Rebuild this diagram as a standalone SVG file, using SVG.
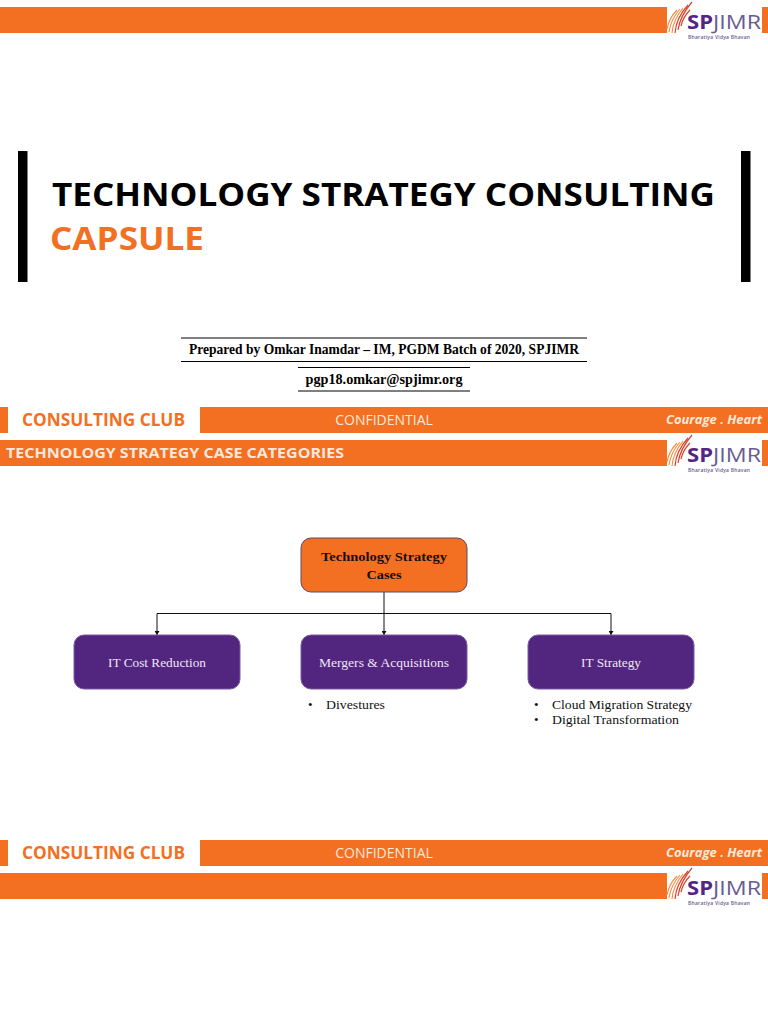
<svg xmlns="http://www.w3.org/2000/svg" width="768" height="1024" viewBox="0 0 768 1024">
<style>
.o{fill:#f36f21}
.k{fill:#000}
.s{font-family:"Open Sans","Noto Sans",sans-serif}
.c{font-family:"Liberation Serif","DejaVu Serif",serif}
.club{font-size:17.5px;font-weight:700;fill:#f36f21}
.conf{font-size:14px;fill:#fde9dc;text-anchor:middle}
.ch{font-size:12.5px;font-weight:700;font-style:italic;fill:#fde9dc}
.box{fill:#52257f;stroke:#7a5aa6;stroke-width:1}
.boxo{fill:#f36f21;stroke:#5a4a6a;stroke-width:1}
.wt{font-size:13px;fill:#efe6f5;text-anchor:middle}
.bt{font-size:13px;fill:#111}
.rule{stroke:#000;stroke-width:1}
.conn{fill:none;stroke:#111;stroke-width:1}
</style>
<defs>
<marker id="arrow" markerUnits="userSpaceOnUse" markerWidth="5" markerHeight="5" refX="4" refY="2.500" orient="auto"><path d="M0 0L4 2.500L0 5Z" fill="#111"/></marker>
<g id="logo">
<g fill="none" stroke="#f58a3c" stroke-width="1.1"><path d="M667 29Q669 18 677 10"/><path d="M669 32Q671 19 680 9"/><path d="M672 33Q673 20 683 8"/></g>
<g fill="none" stroke="#d9402b" stroke-width="1.2"><path d="M675 33Q676 18 688 5"/><path d="M678 30Q680 16 692 2"/><path d="M681 26Q683 17 690 10"/></g>
<text x="687" y="29" font-family="'Open Sans',sans-serif" font-size="20" font-weight="700" fill="#542583" textLength="26" lengthAdjust="spacingAndGlyphs">SP</text>
<text x="713" y="29" font-family="'Open Sans',sans-serif" font-size="20" fill="#6a5a92" textLength="48" lengthAdjust="spacingAndGlyphs">JIMR</text>
<text x="688" y="38.500" font-family="'Open Sans',sans-serif" font-size="5" font-weight="600" fill="#6a5a92" textLength="62">Bharatiya Vidya Bhavan</text>
</g>
<g id="footer">
<rect class="o" x="0" y="0" width="8" height="26"/>
<rect class="o" x="200" y="0" width="568" height="26"/>
<text class="s club" x="22" y="19" textLength="163" lengthAdjust="spacingAndGlyphs">CONSULTING CLUB</text>
<text class="s conf" x="384" y="18">CONFIDENTIAL</text>
<text class="s ch" x="666" y="17" textLength="96" lengthAdjust="spacingAndGlyphs">Courage . Heart</text>
</g>
</defs>
<rect width="768" height="1024" fill="#fff"/>

<g id="top-header">
<rect class="o" x="0" y="7" width="667" height="26"/>
<rect class="o" x="762" y="7" width="6" height="26"/>
<use href="#logo"/>
</g>

<g id="title">
<rect class="k" x="18" y="151" width="9.500" height="131"/>
<rect class="k" x="741" y="151" width="9.500" height="131"/>
<text class="s" x="52" y="206" font-size="33" font-weight="700" fill="#000" textLength="663" lengthAdjust="spacingAndGlyphs">TECHNOLOGY STRATEGY CONSULTING</text>
<text class="s" x="50" y="250" font-size="33" font-weight="700" fill="#f36f21" textLength="154" lengthAdjust="spacingAndGlyphs">CAPSULE</text>
</g>

<g id="author">
<line class="rule" x1="181" y1="338" x2="587" y2="338"/>
<line class="rule" x1="181" y1="361.500" x2="587" y2="361.500"/>
<line class="rule" x1="298" y1="367.500" x2="470" y2="367.500"/>
<line class="rule" x1="298" y1="391" x2="470" y2="391"/>
<text class="c" x="384" y="354" font-size="14" font-weight="700" text-anchor="middle" fill="#000" textLength="390" lengthAdjust="spacingAndGlyphs">Prepared by Omkar Inamdar – IM, PGDM Batch of 2020, SPJIMR</text>
<text class="c" x="384" y="384" font-size="14" font-weight="700" text-anchor="middle" fill="#000" textLength="157" lengthAdjust="spacingAndGlyphs">pgp18.omkar@spjimr.org</text>
</g>

<g id="footer-1" transform="translate(0 407)"><use href="#footer"/></g>

<g id="slide-header">
<rect class="o" x="0" y="440" width="667" height="26"/>
<rect class="o" x="762" y="440" width="6" height="26"/>
<text class="s" x="6" y="458" font-size="14.500" font-weight="700" fill="#fde9dc" textLength="338" lengthAdjust="spacingAndGlyphs">TECHNOLOGY STRATEGY CASE CATEGORIES</text>
<use href="#logo" transform="translate(0 433)"/>
</g>

<g id="connectors">
<path class="conn" d="M384 592V635" marker-end="url(#arrow)"/>
<path class="conn" d="M384 613.500H157V635" marker-end="url(#arrow)"/>
<path class="conn" d="M384 613.500H611V635" marker-end="url(#arrow)"/>
</g>

<g id="node-root">
<rect class="boxo" x="301" y="538" width="166" height="54" rx="10"/>
<text class="c bt" x="384" y="561" font-weight="700" text-anchor="middle" fill="#3a1a08" textLength="126" lengthAdjust="spacingAndGlyphs">Technology Strategy</text>
<text class="c bt" x="384" y="578.500" font-weight="700" text-anchor="middle" fill="#3a1a08" textLength="35" lengthAdjust="spacingAndGlyphs">Cases</text>
</g>
<g id="node-cost">
<rect class="box" x="74" y="635" width="166" height="54" rx="10"/>
<text class="c wt" x="157" y="666.500" textLength="98" lengthAdjust="spacingAndGlyphs">IT Cost Reduction</text>
</g>
<g id="node-ma">
<rect class="box" x="301" y="635" width="166" height="54" rx="10"/>
<text class="c wt" x="384" y="666.500" textLength="130" lengthAdjust="spacingAndGlyphs">Mergers &amp; Acquisitions</text>
</g>
<g id="node-it">
<rect class="box" x="528" y="635" width="166" height="54" rx="10"/>
<text class="c wt" x="611" y="666.500" textLength="60" lengthAdjust="spacingAndGlyphs">IT Strategy</text>
</g>

<g id="list-ma">
<text class="c bt" x="308" y="709">•</text>
<text class="c bt" x="326" y="709" textLength="59" lengthAdjust="spacingAndGlyphs">Divestures</text>
</g>
<g id="list-it">
<text class="c bt" x="534" y="709">•</text>
<text class="c bt" x="552" y="709" textLength="140" lengthAdjust="spacingAndGlyphs">Cloud Migration Strategy</text>
<text class="c bt" x="534" y="724">•</text>
<text class="c bt" x="552" y="724" textLength="127" lengthAdjust="spacingAndGlyphs">Digital Transformation</text>
</g>

<g id="footer-2" transform="translate(0 840)"><use href="#footer"/></g>

<g id="bottom-header">
<rect class="o" x="0" y="873" width="667" height="26"/>
<rect class="o" x="762" y="873" width="6" height="26"/>
<use href="#logo" transform="translate(0 866)"/>
</g>
</svg>
